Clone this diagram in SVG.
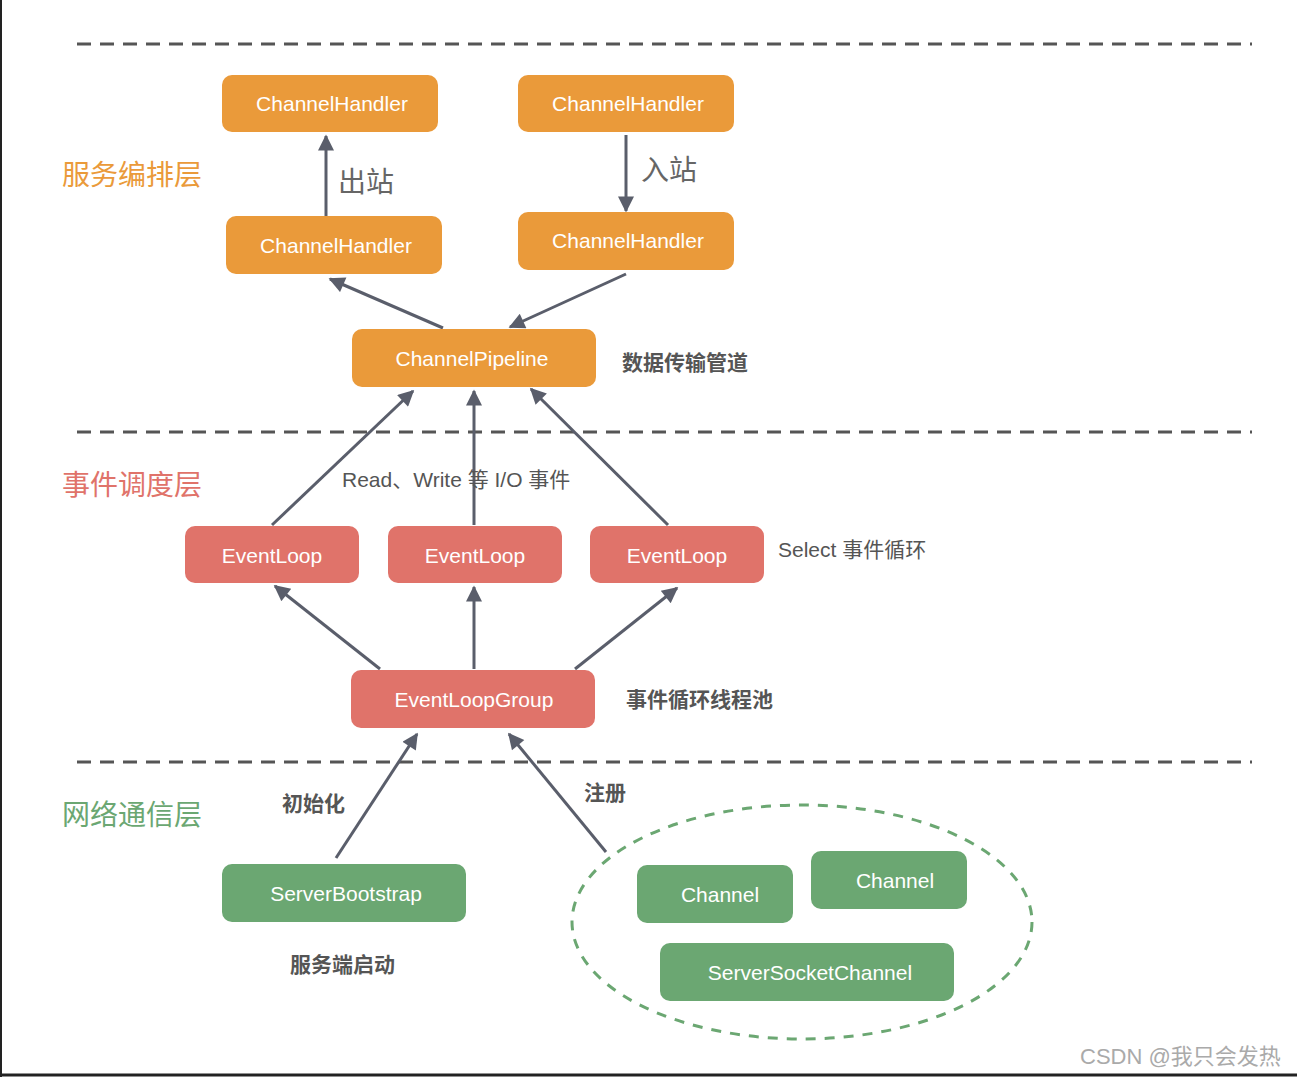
<svg xmlns="http://www.w3.org/2000/svg" width="1297" height="1077" viewBox="0 0 1297 1077">
<defs>
<marker id="ah" viewBox="0 0 10 10" refX="9" refY="5" markerWidth="18" markerHeight="16" orient="auto" markerUnits="userSpaceOnUse"><path d="M0,0 L10,5 L0,10 z" fill="#5a5e6b"/></marker>
<style>
.o{fill:#ea9a3a}.r{fill:#e0736a}.g{fill:#6ba772}
.nt{font-family:"Liberation Sans",Arial,sans-serif;font-size:21px;fill:#fff;text-anchor:middle;dominant-baseline:central}
.lb{font-family:"Liberation Sans","Noto Sans CJK SC",sans-serif;font-size:21px;fill:#555;font-weight:bold}
.ly{font-family:"Noto Sans CJK SC",sans-serif;font-size:28px}
.dl{stroke:#555;stroke-width:3;stroke-dasharray:14,9}
.c{stroke:#5a5e6b;stroke-width:3;fill:none;marker-end:url(#ah)}
</style>
</defs>
<rect width="1297" height="1077" fill="#fff"/>
<line x1="1" y1="0" x2="1" y2="1077" stroke="#222" stroke-width="2"/>
<line x1="0" y1="1075" x2="1297" y2="1075" stroke="#222" stroke-width="3"/>
<g id="dividers">
<line class="dl" x1="77" y1="44" x2="1252" y2="44"/>
<line class="dl" x1="77" y1="432" x2="1252" y2="432"/>
<line class="dl" x1="77" y1="762" x2="1252" y2="762"/>
</g>
<text class="ly" x="62" y="185" fill="#ea9a3a">服务编排层</text>
<text class="ly" x="62" y="495" fill="#e0736a">事件调度层</text>
<text class="ly" x="62" y="825" fill="#6ba772">网络通信层</text>
<g id="connectors">
<line class="c" x1="326" y1="216" x2="326" y2="136"/>
<line class="c" x1="626" y1="135" x2="626" y2="211"/>
<line class="c" x1="443" y1="328" x2="330" y2="279"/>
<line class="c" x1="626" y1="274" x2="510" y2="327"/>
<line class="c" x1="272" y1="525" x2="413" y2="391"/>
<line class="c" x1="474" y1="525" x2="474" y2="391"/>
<line class="c" x1="668" y1="525" x2="531" y2="389"/>
<line class="c" x1="380" y1="669" x2="275" y2="586"/>
<line class="c" x1="474" y1="669" x2="474" y2="587"/>
<line class="c" x1="575" y1="669" x2="677" y2="588"/>
<line class="c" x1="336" y1="858" x2="417" y2="734"/>
<line class="c" x1="606" y1="852" x2="509" y2="734"/>
</g>
<g id="ch1"><rect class="o" x="222" y="75" width="216" height="57" rx="10"/><text class="nt" x="332" y="103">ChannelHandler</text></g>
<g id="ch2"><rect class="o" x="226" y="216" width="216" height="58" rx="10"/><text class="nt" x="336" y="245">ChannelHandler</text></g>
<g id="ch3"><rect class="o" x="518" y="75" width="216" height="57" rx="10"/><text class="nt" x="628" y="103">ChannelHandler</text></g>
<g id="ch4"><rect class="o" x="518" y="212" width="216" height="58" rx="10"/><text class="nt" x="628" y="240">ChannelHandler</text></g>
<g id="pipeline"><rect class="o" x="352" y="329" width="244" height="58" rx="10"/><text class="nt" x="472" y="358">ChannelPipeline</text></g>
<g id="el1"><rect class="r" x="185" y="526" width="174" height="57" rx="10"/><text class="nt" x="272" y="555">EventLoop</text></g>
<g id="el2"><rect class="r" x="388" y="526" width="174" height="57" rx="10"/><text class="nt" x="475" y="555">EventLoop</text></g>
<g id="el3"><rect class="r" x="590" y="526" width="174" height="57" rx="10"/><text class="nt" x="677" y="555">EventLoop</text></g>
<g id="elg"><rect class="r" x="351" y="670" width="244" height="58" rx="10"/><text class="nt" x="474" y="699">EventLoopGroup</text></g>
<g id="sb"><rect class="g" x="222" y="864" width="244" height="58" rx="10"/><text class="nt" x="346" y="893">ServerBootstrap</text></g>
<g id="channels">
<ellipse cx="802" cy="922" rx="230" ry="117" fill="none" stroke="#6ba772" stroke-width="3" stroke-dasharray="10,9"/>
<g id="c1"><rect class="g" x="637" y="865" width="156" height="58" rx="10"/><text class="nt" x="720" y="894">Channel</text></g>
<g id="c2"><rect class="g" x="811" y="851" width="156" height="58" rx="10"/><text class="nt" x="895" y="880">Channel</text></g>
<g id="ssc"><rect class="g" x="660" y="943" width="294" height="58" rx="10"/><text class="nt" x="810" y="972">ServerSocketChannel</text></g>
</g>
<text x="338" y="192" style="font-family:'Noto Sans CJK SC',sans-serif;font-size:28px;fill:#666">出站</text>
<text x="641" y="180" style="font-family:'Noto Sans CJK SC',sans-serif;font-size:28px;fill:#666">入站</text>
<text class="lb" x="622" y="370">数据传输管道</text>
<text class="lb" x="342" y="487" style="font-weight:normal">Read、Write 等 I/O 事件</text>
<text class="lb" x="778" y="557" style="font-weight:normal">Select 事件循环</text>
<text class="lb" x="626" y="707">事件循环线程池</text>
<text class="lb" x="282" y="811">初始化</text>
<text class="lb" x="584" y="800">注册</text>
<text class="lb" x="290" y="972">服务端启动</text>
<text x="1080" y="1064" style="font-family:'Liberation Sans','Noto Sans CJK SC',sans-serif;font-size:22px;fill:#aaa">CSDN @我只会发热</text>
</svg>
